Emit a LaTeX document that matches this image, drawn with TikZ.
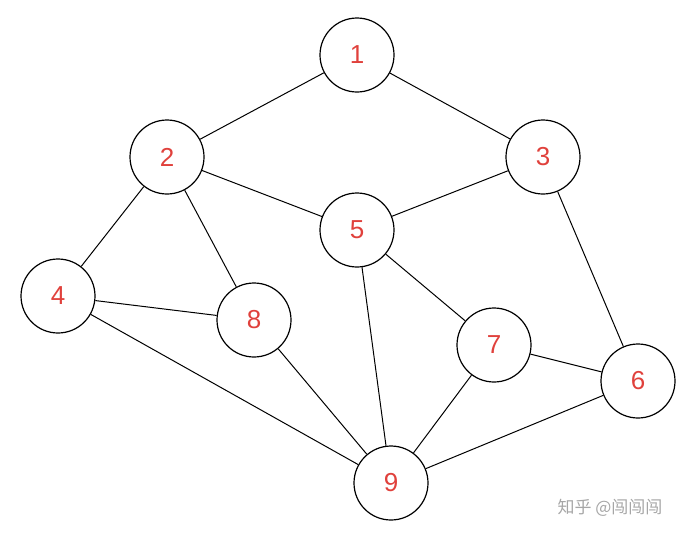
\documentclass[tikz,border=0pt]{standalone}
\usepackage{fontspec}
\setmainfont{Liberation Sans}
\newfontfamily\cjk{Noto Sans CJK SC}
\definecolor{numred}{HTML}{E0413C}
\begin{document}
\begin{tikzpicture}[x=1pt,y=-1pt,
  vtx/.style={circle,draw,line width=1.2pt,minimum size=74pt,inner sep=0pt,font=\fontsize{26}{26}\selectfont,text=numred},
  edge/.style={line width=1pt}]
\useasboundingbox (0,0) rectangle (692,536);
\node[vtx] (n1) at (357,55) {1};
\node[vtx] (n2) at (167,157) {2};
\node[vtx] (n3) at (543,157) {3};
\node[vtx] (n4) at (58,296) {4};
\node[vtx] (n5) at (357,230) {5};
\node[vtx] (n6) at (638,381) {6};
\node[vtx] (n7) at (494,345) {7};
\node[vtx] (n8) at (254,320) {8};
\node[vtx] (n9) at (391,483) {9};
\foreach \a/\b in {n1/n2,n1/n3,n2/n5,n3/n5,n2/n4,n2/n8,n4/n8,n4/n9,n8/n9,n5/n9,n5/n7,n7/n9,n7/n6,n3/n6,n6/n9}
  \draw[edge] (\a) -- (\b);
\node[text=gray!70,font=\cjk\fontsize{17}{17}\selectfont] (wm) at (610,508) {知乎 @闯闯闯};
\end{tikzpicture}
\end{document}
